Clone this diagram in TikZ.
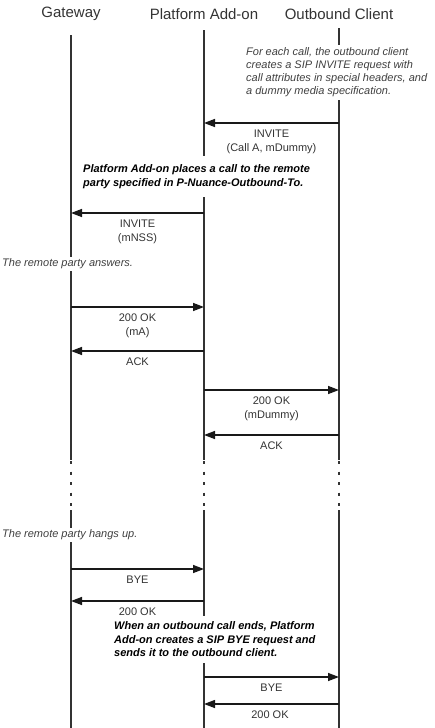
\documentclass[tikz,border=0pt]{standalone}
\usepackage{fontspec}
\setmainfont{Liberation Sans}
\usetikzlibrary{arrows.meta,positioning}

\begin{document}
\begin{tikzpicture}
            [
                x=1pt, y=-1pt,
                party/.style={text=black!80, font=\fontsize{15}{18}\selectfont},
                lifeline/.style={draw=black!80, line width=1.1pt},
                pause/.style={lifeline, dash pattern=on 3pt off 7.5pt},
                msg/.style={draw=black!90, line width=1.4pt, -{Triangle[length=11pt,width=8pt]}},
                lbl/.style={below=3pt, align=center, text=black!80, font=\fontsize{11}{13.5}\selectfont},
                remark/.style={fill=white, align=left, inner xsep=2pt, inner ysep=2pt,
                    text=black!75, font=\fontsize{11}{13}\selectfont\itshape},
                action/.style={remark, text=black, font=\fontsize{11}{13.5}\selectfont\bfseries\itshape}
            ]
            \useasboundingbox (0,0) rectangle (435,728);

            \node[party] (gw) at (71,14) {Gateway};
            \node[party] (pa) at (204,14) {Platform Add-on};
            \node[party] (oc) at (339,14) {Outbound Client};

            \coordinate (pausetop) at (0,460);
            \coordinate (pausebot) at (0,510);
            \coordinate (bottom) at (0,728);

            % life lines, broken by the pause
            \foreach \who/\top in {gw/35, pa/30, oc/28} {
                \draw[lifeline] (\who |- 0,\top) -- (\who |- pausetop);
                \draw[pause] (\who |- 0,461) -- (\who |- 0,508);
                \draw[lifeline] (\who |- pausebot) -- (\who |- bottom);
            }

            % messages
            \foreach \from/\to/\row/\txt in {
                oc/pa/123/{INVITE\\(Call A, mDummy)},
                pa/gw/213/{INVITE\\(mNSS)},
                gw/pa/307/{200 OK\\(mA)},
                pa/gw/351/{ACK},
                pa/oc/390/{200 OK\\(mDummy)},
                oc/pa/435/{ACK},
                gw/pa/569/{BYE},
                pa/gw/601/{200 OK},
                pa/oc/677/{BYE},
                oc/pa/704/{200 OK}
            }
                \draw[msg] (\from |- 0,\row) -- node[lbl] (lbl-\row) {\txt} (\to |- 0,\row);

            % notes
            \node[remark, anchor=west, inner ysep=2.5pt] (callnote) at (244,72.5) {
                For each call, the outbound client\\
                creates a SIP INVITE request with\\
                call attributes in special headers, and\\
                a dummy media specification.
            };
            \node[action, anchor=west, inner ysep=9pt] (placenote) at (81,176.5) {
                Platform Add-on places a call to the remote\\
                party specified in P-Nuance-Outbound-To.
            };
            \node[remark, anchor=west] (answernote) at (0,264) {The remote party answers.};
            \node[remark, anchor=west] (hangupnote) at (0,535) {The remote party hangs up.};
            \node[action, anchor=west, inner ysep=6pt] (byenote) at (112,639.5) {
                When an outbound call ends, Platform\\
                Add-on creates a SIP BYE request and\\
                sends it to the outbound client.
            };
        \end{tikzpicture}
\end{document}
